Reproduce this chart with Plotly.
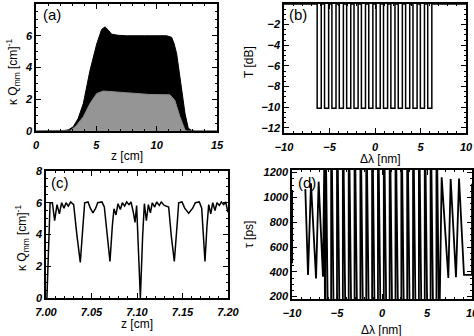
import plotly.graph_objects as go

# ---------------- data ----------------
# (a) envelope of kappa*Q_mm along z [cm]
a_black_z = [0, 2.0, 2.3, 2.7, 3.09, 3.5, 3.92, 4.47, 5.03, 5.44, 5.72, 6.0, 6.27, 6.8, 7.5, 9.0, 10.83, 11.24, 11.45, 11.66, 12.07, 12.35, 12.62, 12.9, 13.2, 15]
a_black_k = [0, 0, 0.02, 0.08, 0.27, 0.8, 1.73, 3.8, 5.48, 6.4, 6.56, 6.35, 6.1, 6.03, 6.0, 6.0, 6.0, 5.9, 5.5, 4.85, 2.77, 1.1, 0.17, 0.04, 0, 0]
a_gray_z = [0, 2.8, 3.3, 3.92, 4.47, 5.03, 5.58, 6.68, 7.7, 9.45, 11.1, 11.5, 11.93, 12.35, 12.5, 15]
a_gray_k = [0, 0, 0.3, 0.9, 1.73, 2.36, 2.52, 2.46, 2.4, 2.3, 2.28, 1.94, 0.9, 0.06, 0, 0]

# (b) transmission comb: notch centres [nm], notch width, levels [dB]
b_notch_centers = [-6.13, -5.32, -4.51, -3.70, -2.89, -2.08, -1.27, -0.46,
                   0.35, 1.16, 1.97, 2.78, 3.59, 4.40, 5.21, 6.02]
b_notch_width = 0.45
b_top_db = 0.0
b_bottom_db = -10.1

# (c) zoomed kappa*Q_mm profile
c_z = [7.0010, 7.0045, 7.0070, 7.0095, 7.0121, 7.0147, 7.0172, 7.0198, 7.0220, 7.0245,
       7.0271, 7.0304, 7.0341, 7.0377, 7.0403, 7.0425, 7.0462, 7.0487, 7.0516, 7.0546,
       7.0568, 7.0615, 7.0641, 7.0670, 7.0703, 7.0729, 7.0747, 7.0769, 7.0791, 7.0817,
       7.0839, 7.0864, 7.0886, 7.0912, 7.0934, 7.0960, 7.0978, 7.0996, 7.1011, 7.1037,
       7.1062, 7.1081, 7.1103, 7.1125, 7.1147, 7.1168, 7.1194, 7.1216, 7.1245, 7.1267,
       7.1300, 7.1348, 7.1377, 7.1410, 7.1440, 7.1458, 7.1495, 7.1524, 7.1568, 7.1612,
       7.1641, 7.1685, 7.1711, 7.1733, 7.1747, 7.1769, 7.1788, 7.1810, 7.1832, 7.1857,
       7.1879, 7.1905, 7.1927, 7.1952, 7.1974, 7.2000]
c_k = [0.0, 6.0, 6.0, 4.87, 5.88, 5.30, 6.0, 5.66, 6.0, 5.79,
       6.05, 5.88, 3.9, 2.24, 4.3, 6.0, 6.05, 5.66, 5.36, 5.66,
       6.0, 6.05, 5.73, 3.9, 2.3, 4.55, 5.62, 5.23, 5.94, 5.58,
       6.0, 5.79, 6.05, 5.88, 6.05, 5.4, 4.76, 5.83, 3.9, 0.0,
       3.9, 5.94, 4.87, 5.88, 5.36, 6.0, 5.73, 6.05, 5.83, 6.05,
       5.83, 5.73, 3.9, 2.3, 4.55, 6.0, 6.05, 5.66, 5.34, 5.66,
       6.0, 6.05, 5.66, 3.9, 2.3, 4.55, 5.88, 5.30, 6.0, 5.51,
       6.0, 5.83, 6.05, 5.88, 6.05, 5.4]

# (d) group delay [ps]
d_left_x = [-10.0, -10.0]
d_left_tau = [470, 1060]
d_edge_x = [-8.52, -8.22, -7.89, -7.33, -7.04, -6.56, -6.42]
d_edge_tau = [1068, 374, 1114, 347, 1127, 360, 1250]
d_jump_x = [-6.30, -5.65, -5.00, -4.35, -3.70, -3.05, -2.40, -1.75, -1.10, -0.45,
            0.20, 0.85, 1.50, 2.15, 2.80, 3.45, 4.10, 4.75, 5.40, 6.05]
d_ramp_width = 0.35
d_off_top = 1800
d_off_bottom = -400
d_right_x = [6.30, 6.63, 7.37, 7.63, 8.22, 8.56, 9.11, 10.0, 10.0]
d_right_tau = [-400, 1163, 351, 1149, 356, 1152, 375, 375, 1110]

# ---------------- figure ----------------
W, H = 474, 336
FONT = "Arial, Liberation Sans, Helvetica, sans-serif"


def px_x(p):
    return p / W


def px_y(p):
    return 1 - p / H


# comb polyline from notch centres
b_x = [-10.0]
b_y = [b_top_db]
for c in b_notch_centers:
    x0 = c - b_notch_width / 2
    x1 = c + b_notch_width / 2
    b_x += [x0, x0, x1, x1]
    b_y += [b_top_db, b_bottom_db, b_bottom_db, b_top_db]
b_x.append(10.0)
b_y.append(b_top_db)

# delay polyline: band edge, sawtooth in band, right edge
d_x = list(d_edge_x)
d_y = list(d_edge_tau)
for j in d_jump_x:
    d_x += [j, j, j + d_ramp_width]
    d_y += [d_off_bottom, d_off_top, d_off_bottom]
d_x += d_right_x
d_y += d_right_tau

fig = go.Figure()
fig.add_trace(go.Scatter(x=a_black_z, y=a_black_k, mode="lines", fill="tozeroy",
                         line=dict(color="black", width=1), fillcolor="black",
                         xaxis="x", yaxis="y", showlegend=False))
fig.add_trace(go.Scatter(x=a_gray_z, y=a_gray_k, mode="lines", fill="tozeroy",
                         line=dict(color="#8a8a8a", width=1), fillcolor="#959595",
                         xaxis="x", yaxis="y", showlegend=False))
fig.add_trace(go.Scatter(x=b_x, y=b_y, mode="lines", line=dict(color="black", width=1.5),
                         xaxis="x2", yaxis="y2", showlegend=False))
fig.add_trace(go.Scatter(x=c_z, y=c_k, mode="lines", line=dict(color="black", width=1.5),
                         xaxis="x3", yaxis="y3", showlegend=False))
fig.add_trace(go.Scatter(x=d_left_x, y=d_left_tau, mode="lines", line=dict(color="black", width=2),
                         xaxis="x4", yaxis="y4", showlegend=False))
fig.add_trace(go.Scatter(x=d_x, y=d_y, mode="lines", line=dict(color="black", width=1.8),
                         xaxis="x4", yaxis="y4", showlegend=False))

tickfont = dict(family=FONT, size=11, color="black", weight="bold", style="italic")


def ax(domain, rng, dtick, minor, anchor, tick0=None, fmt=None, standoff=None, overflow=None):
    d = dict(domain=domain, range=rng, dtick=dtick, anchor=anchor,
             showline=True, linecolor="black", linewidth=1.5, mirror="allticks",
             ticks="inside", ticklen=5, tickwidth=1, tickcolor="black",
             minor=dict(ticks="inside", ticklen=2.5, dtick=minor, tickcolor="black"),
             showgrid=False, zeroline=False, tickfont=tickfont, automargin=False)
    if tick0 is not None:
        d["tick0"] = tick0
    if fmt is not None:
        d["tickformat"] = fmt
    if standoff is not None:
        d["ticklabelstandoff"] = standoff
    if overflow is not None:
        d["ticklabeloverflow"] = overflow
    return d


fig.update_layout(
    width=W, height=H, autosize=False, margin=dict(l=0, r=0, t=0, b=0, pad=0),
    paper_bgcolor="white", plot_bgcolor="white",
    xaxis=ax([px_x(36), px_x(217)], [0, 15], 5, 1, "y", standoff=3),
    yaxis=ax([px_y(131), px_y(4)], [0, 8], 2, 0.5, "x"),
    xaxis2=ax([px_x(284), px_x(466)], [-10, 10], 5, 1, "y2", standoff=3),
    yaxis2=ax([px_y(133), px_y(4)], [-12.5, 0], 2, 0.5, "x2", tick0=0),
    xaxis3=ax([px_x(46), px_x(228)], [7.0, 7.2], 0.05, 0.01, "y3", tick0=7.0, fmt=".2f", standoff=3),
    yaxis3=ax([px_y(298), px_y(171)], [0, 8], 2, 0.5, "x3"),
    xaxis4=ax([px_x(292), px_x(472)], [-10, 10], 5, 1, "y4", standoff=3, overflow="allow"),
    yaxis4=ax([px_y(299), px_y(170)], [181, 1221], 200, 50, "x4", tick0=0),
)

ann = []


def title(text, x, y, angle=0):
    ann.append(dict(text=text, x=px_x(x), y=px_y(y), xref="paper", yref="paper",
                    showarrow=False, textangle=angle, xanchor="center", yanchor="middle",
                    font=dict(family=FONT, size=12, color="black")))


def panel(text, x, y):
    ann.append(dict(text=text, x=px_x(x), y=px_y(y), xref="paper", yref="paper",
                    showarrow=False, xanchor="left", yanchor="middle",
                    font=dict(family=FONT, size=15, color="black")))


kq = "\u03ba Q<sub>mm</sub> [cm]<sup>-1</sup>"
title(kq, 13, 72, -90)
title("z [cm]", 127, 156)
title("T [dB]", 249, 62, -90)
title("\u0394\u03bb [nm]", 380, 159)
title(kq, 22, 238, -90)
title("z [cm]", 137, 324)
title("\u03c4 [ps]", 249, 235, -90)
title("\u0394\u03bb [nm]", 381, 330)
panel("(a)", 41, 15)
panel("(b)", 287, 15)
panel("(c)", 49, 183)
panel("(d)", 296, 182)

fig.update_layout(annotations=ann)
fig.write_html("out.html")
